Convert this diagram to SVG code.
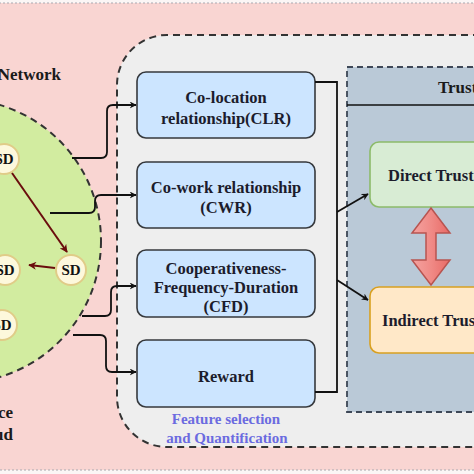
<svg xmlns="http://www.w3.org/2000/svg" width="474" height="474" viewBox="0 0 474 474">
<defs>
<marker id="ab" viewBox="0 0 10 10" refX="9" refY="5" markerWidth="7" markerHeight="7" orient="auto" markerUnits="userSpaceOnUse"><path d="M0,0 L10,5 L0,10 L3,5 Z" fill="#111"/></marker>
<marker id="ar" viewBox="0 0 10 10" refX="9" refY="5" markerWidth="8" markerHeight="8" orient="auto" markerUnits="userSpaceOnUse"><path d="M0,0 L10,5 L0,10 L3,5 Z" fill="#6a0d0d"/></marker>
<linearGradient id="rg" x1="0" y1="0" x2="1" y2="0"><stop offset="0" stop-color="#f4a3a0"/><stop offset="0.5" stop-color="#f08a86"/><stop offset="1" stop-color="#e86a66"/></linearGradient>
<style>
.box{fill:#cce5ff;stroke:#36393d;stroke-width:1.6}
.bt{font-family:"Liberation Serif","Times New Roman",serif;font-weight:bold;font-size:16.5px;fill:#1c1c2c;text-anchor:middle}
.bts{font-family:"Liberation Serif","Times New Roman",serif;font-weight:bold;font-size:16.5px;fill:#1c1c2c;text-anchor:start}
.con{fill:none;stroke:#111;stroke-width:1.8}
.sd{fill:#fdf8dc;stroke:#e0cc88;stroke-width:2}
.sdt{font-family:"Liberation Serif","Times New Roman",serif;font-weight:bold;font-size:15px;fill:#111;text-anchor:middle}
.lbl{font-family:"Liberation Serif","Times New Roman",serif;font-weight:bold;font-size:17px;fill:#1a1a1a}
.feat{font-family:"Liberation Serif","Times New Roman",serif;font-weight:bold;font-size:15px;fill:#6b6be0;text-anchor:middle}
</style>
</defs>
<rect x="0" y="0" width="474" height="474" fill="#fbf6f5"/>
<rect x="-5" y="3" width="484" height="467" fill="#f9d5d2" stroke="#a9a9b0" stroke-width="1" stroke-dasharray="2,2"/>
<g id="network">
<circle cx="-41" cy="241" r="142" fill="#d2eca0" stroke="#333" stroke-width="2" stroke-dasharray="7,5"/>
<text class="lbl" x="61" y="80" text-anchor="end">Network</text>
<text class="lbl" x="13" y="418" text-anchor="end">ce</text>
<text class="lbl" x="13" y="440" text-anchor="end">ud</text>
</g>
<g id="feature-panel">
<path d="M480,35 H167 A50,50 0 0 0 117,85 V397 A50,50 0 0 0 167,447 H480" fill="#eeeeee" stroke="#333" stroke-width="2" stroke-dasharray="7,5"/>
<text class="feat" x="226" y="424">Feature selection</text>
<text class="feat" x="227" y="443">and Quantification</text>
</g>
<g id="trust-panel">
<rect x="347" y="67" width="140" height="345" fill="#bac9d7" stroke="#3d4756" stroke-width="1.8" stroke-dasharray="6,4"/>
<line x1="347" y1="105" x2="480" y2="105" stroke="#111" stroke-width="1.6"/>
<text class="lbl" x="438" y="93" font-size="16.5">Trust</text>
</g>
<g id="sd1"><circle class="sd" cx="4" cy="159" r="15"/><text class="sdt" x="4" y="164">SD</text></g>
<g id="sd2"><circle class="sd" cx="71" cy="270" r="15"/><text class="sdt" x="71" y="275">SD</text></g>
<g id="sd3"><circle class="sd" cx="5" cy="270" r="15"/><text class="sdt" x="5" y="275">SD</text></g>
<g id="sd4"><circle class="sd" cx="2" cy="325" r="15"/><text class="sdt" x="2" y="330">SD</text></g>
<g id="clr"><rect class="box" x="137" y="72" width="178" height="66" rx="9"/><text class="bt" x="226" y="103">Co-location</text><text class="bt" x="226" y="124">relationship(CLR)</text></g>
<g id="cwr"><rect class="box" x="137" y="162" width="178" height="66" rx="9"/><text class="bt" x="226" y="193">Co-work relationship</text><text class="bt" x="226" y="213">(CWR)</text></g>
<g id="cfd"><rect class="box" x="137" y="250" width="178" height="67" rx="9"/><text class="bt" x="226" y="274">Cooperativeness-</text><text class="bt" x="226" y="293">Frequency-Duration</text><text class="bt" x="226" y="312">(CFD)</text></g>
<g id="reward"><rect class="box" x="137" y="340" width="178" height="67" rx="9"/><text class="bt" x="226" y="382">Reward</text></g>
<g id="direct"><rect x="370" y="142" width="120" height="65" rx="9" fill="#d8ecd4" stroke="#8cbb6a" stroke-width="1.6"/><text class="bts" x="388" y="181">Direct Trust</text></g>
<g id="indirect"><rect x="370" y="287" width="120" height="66" rx="9" fill="#ffe8c8" stroke="#d9a020" stroke-width="1.6"/><text class="bts" x="382" y="326">Indirect Trust</text></g>
<g id="connectors">
<path class="con" d="M72,158 H101 Q107,158 107,152 V111 Q107,105 113,105 H136" marker-end="url(#ab)"/>
<path class="con" d="M50,213 H89 Q95,213 95,207 V201 Q95,195 101,195 H136" marker-end="url(#ab)"/>
<path class="con" d="M82,316 H105 Q111,316 111,310 V292 Q111,286 117,286 H136" marker-end="url(#ab)"/>
<path class="con" d="M73,335 H100 Q106,335 106,341 V366 Q106,372 112,372 H136" marker-end="url(#ab)"/>
<path class="con" d="M315,82 H337 V392 H315"/>
<path class="con" d="M337,212 L368,194" marker-end="url(#ab)"/>
<path class="con" d="M337,280 L368,300" marker-end="url(#ab)"/>
<path d="M12,173 L67,252" fill="none" stroke="#6a0d0d" stroke-width="2" marker-end="url(#ar)"/>
<path d="M55,268 L29,265" fill="none" stroke="#6a0d0d" stroke-width="2" marker-end="url(#ar)"/>
<path d="M431,208 L450,233 L436,233 L436,260 L450,260 L431,285 L412,260 L426,260 L426,233 L412,233 Z" fill="url(#rg)" stroke="#b85450" stroke-width="1.5"/>
</g>
</svg>
